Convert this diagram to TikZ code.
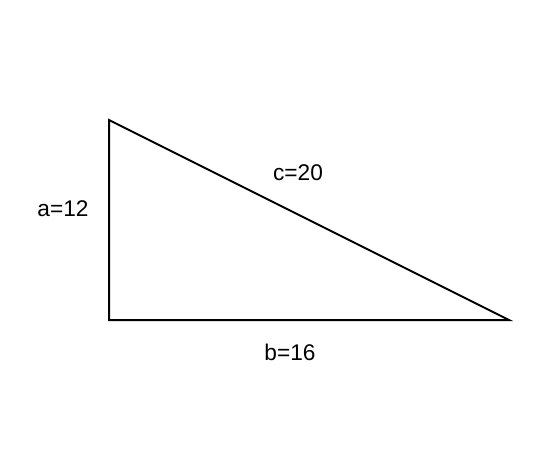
\documentclass[tikz,border=0pt]{standalone}
\usepackage{fontspec}
\setmainfont{Liberation Sans}
\usetikzlibrary{positioning}
\tikzset{x=0.75pt, y=-0.75pt, % one unit is one pixel of the reference
side/.style={ % Sets the properties for the triangle sides
line width=1.5pt, line join=miter},
side label/.style={ % Sets the properties for the side labels
font=\fontsize{17}{20}\selectfont, inner sep=0pt}}
\begin{document}
\begin{tikzpicture}
    \useasboundingbox (0,0) rectangle (559,474);
    
    \coordinate (A) at (109,120);
    \coordinate (C) at (109,320);
    \coordinate (B) at (509,320);
    
    \draw[side] (A) -- (C) -- (B) -- cycle;
    
    \node[side label] (a) at (63,209) {a=12};
    \node[side label] (b) at (290,352) {b=16};
    \node[side label] (c) at (298,173) {c=20};
    
\end{tikzpicture}
\end{document}
